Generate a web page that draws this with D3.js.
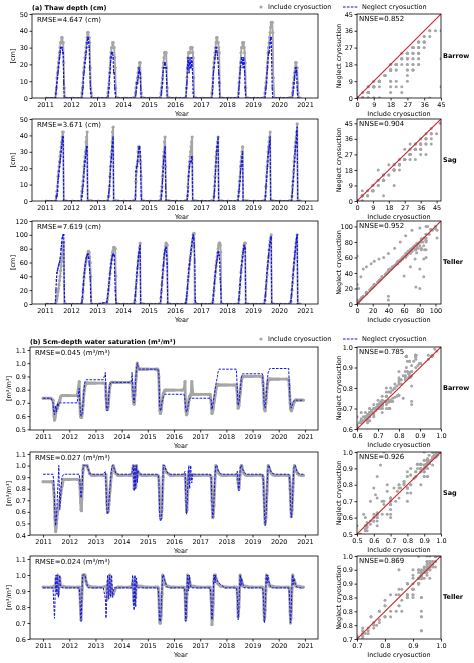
<!DOCTYPE html>
<html>
<head>
<meta charset="utf-8">
<script src="https://cdn.jsdelivr.net/npm/d3@7"></script>
<style>
  body { margin: 0; background: #fff; }
  svg { will-change: transform; }
  text { font-family: "DejaVu Sans", sans-serif; fill: #000; }
</style>
</head>
<body>
<div id="chart"></div>
<script>
// ---- data ----
const years = [2011, 2012, 2013, 2014, 2015, 2016, 2017, 2018, 2019, 2020];
const yearTicks = [2011, 2012, 2013, 2014, 2015, 2016, 2017, 2018, 2019, 2020, 2021];

// (a) thaw depth (cm), sampled at these fractions of each year
const thawFrac = [0.05, 0.38, 0.40, 0.42, 0.44, 0.46, 0.48, 0.50, 0.52, 0.54, 0.56, 0.58,
                  0.60, 0.62, 0.64, 0.66, 0.68, 0.70, 0.72, 0.74, 0.76, 0.78, 0.82];

const barrowThawInc = [
  [0,0,0,3,6,12,15,18,21,24,27,30,33,33,36,36,33,33,21,6,0,0,0],
  [0,0,0,3,6,9,15,18,21,24,27,30,33,36,39,39,36,36,33,18,6,3,0],
  [0,0,0,3,6,9,15,18,24,27,30,30,33,33,30,30,24,18,6,0,0,0,0],
  [0,0,0,0,0,0,3,6,9,9,12,15,18,18,21,21,12,3,0,0,0,0,0],
  [0,0,0,0,0,3,6,9,12,18,21,24,27,27,27,27,18,6,0,0,0,0,0],
  [0,0,0,0,6,12,18,24,27,27,27,27,30,30,30,30,27,24,12,0,0,0,0],
  [0,0,0,3,6,12,18,21,24,27,30,33,36,36,33,33,30,27,9,0,0,0,0],
  [0,0,0,0,3,9,12,18,21,27,30,30,33,33,33,30,27,21,6,0,0,0,0],
  [0,0,0,0,0,3,6,9,12,18,21,27,30,33,36,39,42,45,45,45,39,12,0],
  [0,0,0,0,0,0,0,0,3,6,9,12,15,18,21,21,18,18,9,3,0,0,0]
];
const barrowThawNeg = [
  [0,0,0,3,6,9,12,15,18,21,24,27,30,30,30,30,27,27,9,0,0,0,0],
  [0,0,0,0,3,6,12,15,18,21,24,27,30,33,36,36,33,30,18,9,3,0,0],
  [0,0,0,0,3,6,12,15,21,24,27,27,27,24,15,15,6,3,0,0,0,0,0],
  [0,0,0,0,0,0,0,3,6,9,9,12,15,18,15,15,6,0,0,0,0,0,0],
  [0,0,0,0,0,0,3,6,9,15,18,18,21,21,18,18,9,0,0,0,0,0,0],
  [0,0,0,0,6,9,18,24,21,15,21,24,18,18,24,21,12,3,0,0,0,0,0],
  [0,0,0,0,3,9,15,18,21,24,27,30,30,27,24,21,15,9,0,0,0,0,0],
  [0,0,0,0,0,6,9,15,18,21,24,24,21,18,24,21,15,6,0,0,0,0,0],
  [0,0,0,0,0,0,3,6,9,15,18,24,27,27,30,33,36,36,21,6,0,0,0],
  [0,0,0,0,0,0,0,0,0,3,6,9,12,15,18,18,15,6,0,0,0,0,0]
];

const sagThawInc = [
  [0,0,0,0,3,6,9,15,18,21,24,27,30,33,36,39,42,42,0,0,0,0,0],
  [0,0,3,6,9,12,15,21,24,27,30,36,39,42,0,0,0,0,0,0,0,0,0],
  [0,0,0,0,3,3,9,15,21,27,30,36,42,45,0,0,0,0,0,0,0,0,0],
  [0,0,0,0,0,0,3,12,18,21,24,30,33,33,30,27,24,15,0,0,0,0,0],
  [0,0,0,0,0,3,6,9,15,21,27,30,36,39,21,0,0,0,0,0,0,0,0],
  [0,0,0,0,0,0,3,9,15,21,24,27,30,33,36,39,0,0,0,0,0,0,0],
  [0,0,0,0,0,0,0,3,9,15,21,27,30,33,36,39,0,0,0,0,0,0,0],
  [0,0,0,0,3,6,12,15,21,24,27,30,33,0,0,0,0,0,0,0,0,0,0],
  [0,0,0,0,0,0,3,9,15,21,24,30,33,36,39,42,0,0,0,0,0,0,0],
  [0,0,0,0,0,0,0,3,9,12,18,24,27,33,36,39,42,47,0,0,0,0,0]
];
const sagThawNeg = [
  [0,0,0,0,3,3,6,12,15,18,21,24,27,30,33,36,39,39,0,0,0,0,0],
  [0,0,0,3,6,9,12,18,21,24,27,30,33,33,0,0,0,0,0,0,0,0,0],
  [0,0,0,0,3,6,9,15,21,24,27,33,36,39,0,0,0,0,0,0,0,0,0],
  [0,0,0,0,0,0,0,18,21,21,24,27,30,33,33,30,18,3,0,0,0,0,0],
  [0,0,0,0,0,0,3,6,12,18,24,27,30,33,9,0,0,0,0,0,0,0,0],
  [0,0,0,0,0,0,3,6,15,18,21,24,24,24,27,27,0,0,0,0,0,0,0],
  [0,0,0,0,0,0,0,3,6,12,18,24,30,33,36,39,0,0,0,0,0,0,0],
  [0,0,0,0,3,6,9,12,18,21,24,27,30,0,0,0,0,0,0,0,0,0,0],
  [0,0,0,0,0,0,3,9,12,18,21,27,30,33,36,39,0,0,0,0,0,0,0],
  [0,0,0,0,0,0,0,3,6,12,15,21,24,30,33,36,42,45,0,0,0,0,0]
];

const tellerThawInc = [
  [0,0,0,2,5,8,12,18,22,28,34,40,48,55,62,70,80,88,90,0,0,0,0],
  [0,0,0,2,8,18,28,38,45,52,58,62,66,68,72,76,76,74,68,60,40,0,0],
  [0,2,6,12,20,28,36,44,52,58,64,70,75,78,82,82,80,80,40,0,0,0,0],
  [0,0,0,0,0,4,12,22,32,42,52,60,68,74,82,88,0,0,0,0,0,0,0],
  [0,0,0,0,0,8,18,28,38,48,56,65,72,78,84,88,86,85,0,0,0,0,0],
  [0,0,0,2,6,12,22,32,40,50,57,64,70,76,82,88,94,100,102,102,0,0,0],
  [0,0,0,0,0,4,12,20,30,38,46,55,62,68,74,80,85,88,88,85,75,0,0],
  [0,0,0,0,0,6,16,26,36,46,54,62,70,76,80,85,88,88,0,0,0,0,0],
  [0,0,0,0,0,5,12,22,32,42,52,60,68,78,86,92,96,100,0,0,0,0,0],
  [0,0,0,0,0,4,12,20,30,40,50,58,66,74,82,88,94,100,0,0,0,0,0]
];
const tellerThawNeg = [
  [0,0,0,20,35,45,48,52,55,58,60,65,72,80,88,95,98,100,100,25,0,0,0],
  [0,0,0,3,10,20,30,40,48,55,60,65,68,70,72,72,66,58,48,36,10,0,0],
  [0,3,8,15,22,30,38,45,52,58,63,68,70,72,72,70,45,20,5,0,0,0,0],
  [0,0,0,0,0,5,14,25,35,45,54,62,70,75,80,85,0,0,0,0,0,0,0],
  [0,0,0,0,0,10,20,30,40,50,58,68,74,78,80,82,70,58,0,0,0,0,0],
  [0,0,0,2,8,15,25,35,44,52,58,65,72,78,84,90,96,100,95,85,62,5,0],
  [0,0,0,0,0,5,14,22,32,40,48,55,60,65,70,75,75,70,60,35,22,0,0],
  [0,0,0,0,0,8,18,28,38,48,56,62,68,75,80,85,82,80,0,0,0,0,0],
  [0,0,0,0,0,6,14,25,35,45,54,62,70,78,85,90,95,97,0,0,0,0,0],
  [0,0,0,0,0,5,13,22,32,42,51,60,68,75,83,90,96,100,0,0,0,0,0]
];

// (b) 5 cm water saturation (m3/m3), sampled at these fractions of each year
const satFrac = [0.0, 0.30, 0.38, 0.40, 0.42, 0.435, 0.45, 0.465, 0.48, 0.495, 0.51, 0.525, 0.54,
                 0.555, 0.57, 0.585, 0.60, 0.62, 0.64, 0.66, 0.68, 0.72, 0.78, 0.86, 0.94];

const barrowSatInc = [
  [.735,.735,.72,.66,.60,.57,.58,.60,.62,.64,.65,.66,.67,.66,.68,.69,.70,.71,.72,.74,.75,.755,.755,.755,.755],
  [.755,.755,.86,.70,.62,.60,.59,.59,.60,.62,.65,.68,.72,.76,.79,.81,.83,.845,.85,.85,.85,.85,.85,.85,.85],
  [.85,.85,.85,.75,.68,.66,.65,.65,.67,.70,.74,.78,.81,.83,.845,.85,.855,.855,.855,.855,.855,.855,.855,.855,.855],
  [.855,.855,.86,.85,.80,.75,.72,.70,.69,.72,.76,.80,.86,.90,.94,.97,1.0,.98,.96,.955,.955,.955,.955,.955,.955],
  [.955,.955,.955,.94,.90,.80,.68,.64,.62,.63,.65,.67,.70,.72,.74,.76,.77,.78,.79,.795,.797,.797,.797,.797,.797],
  [.797,.797,.80,.82,.86,.72,.66,.63,.61,.62,.64,.66,.68,.70,.72,.74,.75,.755,.76,.77,.86,.765,.765,.765,.765],
  [.765,.765,.765,.74,.70,.66,.62,.63,.64,.66,.68,.70,.72,.74,.76,.78,.80,.82,.83,.835,.84,.835,.835,.835,.835],
  [.835,.835,.835,.80,.74,.70,.66,.67,.68,.71,.74,.77,.80,.83,.86,.88,.89,.90,.90,.90,.90,.90,.90,.90,.90],
  [.90,.90,.90,.85,.78,.70,.66,.65,.64,.67,.70,.74,.78,.81,.84,.86,.87,.88,.88,.88,.88,.88,.88,.88,.88],
  [.88,.88,.88,.83,.76,.70,.66,.65,.64,.65,.66,.67,.68,.69,.70,.705,.71,.715,.72,.72,.72,.72,.72,.72,.72]
];
const barrowSatNeg = [
  [.735,.735,.70,.64,.62,.61,.64,.66,.68,.65,.63,.66,.68,.70,.67,.69,.70,.70,.70,.70,.70,.70,.70,.70,.70],
  [.70,.70,.81,.72,.64,.61,.60,.60,.61,.63,.66,.70,.74,.78,.81,.84,.86,.87,.875,.875,.875,.875,.875,.875,.875],
  [.875,.875,.93,.74,.66,.64,.64,.65,.68,.72,.76,.80,.82,.84,.85,.855,.855,.855,.855,.855,.855,.855,.855,.855,.855],
  [.855,.855,.86,.93,.85,.78,.74,.71,.70,.73,.78,.83,.88,.92,.96,.99,1.0,.98,.96,.955,.955,.955,.955,.955,.955],
  [.955,.955,.955,.94,.92,.82,.70,.66,.64,.64,.66,.68,.70,.72,.73,.74,.75,.755,.76,.765,.765,.765,.765,.765,.765],
  [.765,.765,.765,.75,.72,.68,.66,.64,.63,.64,.65,.67,.68,.70,.71,.72,.73,.735,.74,.735,.735,.735,.735,.735,.735],
  [.735,.735,.735,.73,.72,.68,.65,.66,.68,.70,.72,.74,.76,.78,.80,.82,.84,.86,.88,.90,.93,.955,.955,.955,.955],
  [.955,.955,.955,.88,.80,.72,.68,.69,.70,.73,.76,.79,.82,.85,.88,.90,.91,.92,.92,.92,.92,.92,.92,.92,.92],
  [.92,.92,.92,.86,.80,.72,.68,.67,.66,.69,.72,.76,.80,.84,.88,.91,.93,.94,.95,.96,.96,.96,.96,.96,.96],
  [.96,.96,.96,.86,.78,.72,.68,.67,.66,.67,.68,.69,.70,.705,.71,.715,.72,.72,.72,.72,.72,.72,.72,.72,.72]
];

const sagSatInc = [
  [.86,.86,.86,.80,.75,.65,.55,.48,.43,.46,.50,.54,.58,.60,.62,.64,.66,.68,.70,.73,.76,.82,.88,.88,.88],
  [.88,.88,.88,.85,.75,.68,.62,.61,.72,.80,.90,.96,1.0,1.0,1.0,1.0,1.0,1.0,1.0,1.0,1.0,.97,.93,.915,.915],
  [.915,.915,.915,.92,.80,.68,.62,.60,.60,.62,.66,.70,.74,.78,.82,.86,.90,.93,.95,.98,1.0,.97,.93,.915,.915],
  [.915,.915,.915,.93,.95,.98,1.0,.90,.80,.88,.95,.90,.82,.92,1.0,.95,.90,.95,.93,.93,.93,.92,.915,.915,.915],
  [.915,.915,.915,.91,.90,.82,.70,.62,.56,.55,.55,.58,.62,.70,.80,.90,1.0,.99,.98,.97,.96,.94,.93,.915,.915],
  [.915,.915,.915,.92,.92,.88,.80,.70,.60,.62,.70,.78,.88,.92,.95,.90,.88,.92,.90,.92,.92,.92,.915,.915,.915],
  [.915,.915,.915,.91,.90,.80,.70,.62,.55,.56,.60,.66,.75,.82,.90,.95,1.0,.98,.97,.96,.95,.93,.92,.915,.915],
  [.915,.915,.915,.92,.92,.88,.85,.82,.80,.84,.88,.92,.95,.98,1.0,1.0,.98,.96,.95,.94,.93,.92,.915,.915,.915],
  [.915,.915,.915,.90,.85,.75,.65,.56,.50,.52,.55,.62,.70,.78,.88,.95,1.0,.98,.97,.96,.95,.93,.92,.915,.915],
  [.915,.915,.915,.91,.88,.80,.70,.62,.56,.58,.62,.70,.78,.85,.92,.97,1.0,.98,.97,.96,.95,.93,.92,.915,.915]
];
const sagSatNeg = [
  [.925,.925,.925,.88,.80,.70,.60,.52,.48,.52,.55,.62,.70,.78,.85,.92,1.0,.80,.62,.70,.78,.90,.925,.925,.925],
  [.925,.925,.925,.88,.80,.76,.72,.74,.78,.85,.92,.97,1.0,1.0,1.0,1.0,1.0,1.0,1.0,1.0,1.0,.97,.93,.925,.925],
  [.925,.925,.95,.85,.70,.62,.58,.58,.60,.63,.68,.72,.76,.81,.86,.90,.95,.98,1.0,1.0,1.0,.97,.93,.925,.925],
  [.925,.925,.925,.94,.96,1.0,1.0,.88,.78,.90,1.0,.88,.80,.95,1.0,.92,.85,.96,.94,.93,.93,.925,.925,.925,.925],
  [.925,.925,.925,.91,.88,.75,.60,.55,.52,.52,.53,.56,.60,.72,.85,.95,1.0,1.0,1.0,.99,.97,.95,.93,.925,.925],
  [.925,.925,.925,.94,.95,.88,.75,.65,.58,.62,.72,.82,.90,.96,1.0,.85,.80,.95,1.0,.90,.85,.93,.925,.925,.925],
  [.925,.925,.925,.91,.90,.78,.68,.60,.55,.57,.62,.70,.78,.86,.92,.97,1.0,1.0,1.0,.98,.96,.94,.93,.925,.925],
  [.925,.925,.925,.94,.95,.90,.85,.80,.78,.84,.90,.95,1.0,1.0,1.0,1.0,.98,.97,.96,.95,.94,.93,.925,.925,.925],
  [.925,.925,.925,.90,.85,.72,.62,.54,.48,.50,.55,.62,.72,.82,.90,.96,1.0,1.0,1.0,.98,.96,.94,.93,.925,.925],
  [.925,.925,.925,.91,.88,.78,.68,.60,.55,.58,.62,.70,.80,.88,.95,.98,1.0,1.0,1.0,.98,.96,.94,.93,.925,.925]
];

const tellerSatInc = [
  [.925,.925,.925,.93,.93,.93,.93,.92,.95,.98,.92,.90,.96,1.0,.94,.88,.92,.96,.98,.94,.93,.93,.93,.925,.925],
  [.925,.925,.925,.90,.82,.76,.72,.78,.85,.92,.98,1.0,1.0,1.0,1.0,1.0,1.0,.98,.96,.95,.94,.93,.93,.925,.925],
  [.925,.925,.93,.93,.93,.90,.85,.92,.96,.90,.88,.95,1.0,.96,.90,.88,.94,.92,.88,.90,.88,.90,.92,.925,.925],
  [.925,.925,.925,.93,.95,.93,.90,.84,.82,.92,.98,.90,.86,.94,.95,.93,.93,.93,.93,.93,.93,.93,.93,.925,.925],
  [.925,.925,.925,.92,.88,.80,.72,.70,.70,.72,.75,.80,.88,.94,1.0,.99,.98,.97,.96,.95,.94,.93,.93,.925,.925],
  [.925,.925,.925,.92,.90,.80,.72,.74,.80,.88,.95,1.0,.96,.92,.94,.98,.96,.94,.93,.93,.93,.93,.93,.925,.925],
  [.925,.925,.925,.90,.85,.76,.69,.72,.75,.82,.90,.96,1.0,.98,.96,1.0,.98,.97,.96,.95,.95,.94,.93,.93,.925],
  [.925,.925,.925,.92,.88,.80,.74,.76,.80,.86,.92,1.0,.98,.95,.97,.96,.95,.94,.93,.93,.93,.93,.93,.925,.925],
  [.925,.925,.925,.92,.86,.78,.72,.74,.78,.84,.90,.98,1.0,.96,.97,.98,.96,.95,.94,.93,.93,.93,.93,.925,.925],
  [.925,.925,.925,.92,.85,.77,.70,.73,.78,.85,.92,.98,1.0,.95,.96,.97,.96,.95,.94,.93,.93,.93,.93,.925,.925]
];
const tellerSatNeg = [
  [.92,.92,.92,.85,.78,.73,.80,.90,.97,1.0,.92,.88,.98,1.0,.92,.86,.90,.98,1.0,.94,.93,.92,.92,.92,.92],
  [.92,.92,.92,.88,.80,.74,.71,.77,.86,.94,1.0,1.0,1.0,1.0,1.0,1.0,1.0,.98,.96,.95,.94,.92,.92,.92,.92],
  [.92,.92,.85,.73,.78,.88,.95,1.0,.92,.86,.85,.96,1.0,.95,.88,.86,.96,1.0,.90,.86,.90,.92,.92,.92,.92],
  [.92,.92,.92,.94,1.0,.95,.85,.80,.78,.90,1.0,.88,.80,.94,.98,.92,.92,.92,.92,.92,.92,.92,.92,.92,.92],
  [.92,.92,.92,.90,.85,.78,.72,.71,.71,.73,.78,.84,.90,.96,1.0,1.0,1.0,.98,.97,.96,.95,.93,.92,.92,.92],
  [.92,.92,.92,.92,.88,.78,.71,.74,.82,.90,.98,1.0,.95,.90,.94,1.0,.97,.95,.93,.92,.92,.92,.92,.92,.92],
  [.92,.92,.92,.90,.82,.76,.72,.74,.78,.86,.95,1.0,1.0,.96,.95,1.0,.98,.97,.97,.96,.96,.95,.94,.93,.92],
  [.92,.92,.92,.90,.86,.78,.72,.75,.82,.88,.95,1.0,1.0,.93,.96,.98,.96,.95,.94,.93,.92,.92,.92,.92,.92],
  [.92,.92,.92,.90,.84,.76,.70,.73,.80,.86,.93,1.0,1.0,.95,.97,1.0,.98,.96,.95,.94,.93,.92,.92,.92,.92],
  [.92,.92,.92,.90,.82,.75,.70,.72,.80,.88,.95,1.0,1.0,.94,.96,.98,.97,.95,.94,.93,.93,.92,.92,.92,.92]
];

// tick labels
const thawTicks = [0, 10, 20, 30, 40, 50];
const tellerThawTicks = [0, 20, 40, 60, 80, 100, 120];
const thawScatterTicks = [0, 9, 18, 27, 36, 45];
const tellerScatterTicks = [0, 20, 40, 60, 80, 100];
const barrowSatTicks = [0.5, 0.6, 0.7, 0.8, 0.9, 1.0, 1.1];
const sagSatTicks = [0.4, 0.5, 0.6, 0.7, 0.8, 0.9, 1.0, 1.1];
const tellerSatTicks = [0.6, 0.7, 0.8, 0.9, 1.0, 1.1];
const barrowSatScatterTicks = [0.6, 0.7, 0.8, 0.9, 1.0];
const sagSatScatterTicks = [0.5, 0.6, 0.7, 0.8, 0.9, 1.0];
const tellerSatScatterX = [0.7, 0.8, 0.9, 1.0];
const tellerSatScatterY = [0.70, 0.75, 0.80, 0.85, 0.90, 0.95, 1.00];

const rmseText = ['RMSE=4.647 (cm)', 'RMSE=3.671 (cm)', 'RMSE=7.619 (cm)',
  'RMSE=0.045 (m\u00b3/m\u00b3)', 'RMSE=0.027 (m\u00b3/m\u00b3)', 'RMSE=0.024 (m\u00b3/m\u00b3)'];
const nnseText = ['NNSE=0.852', 'NNSE=0.904', 'NNSE=0.952', 'NNSE=0.785', 'NNSE=0.926', 'NNSE=0.869'];
const stations = ['Barrow', 'Sag', 'Teller'];

// ---- drawing ----
const GRAY = '#a6a6a6';
const BLUE = '#1010e8';
const RED = '#d0202e';
const FS = 6.5;

let badRows = 0;
function toRows(frac, inc, neg) {
  const rows = [];
  years.forEach((yr, i) => {
    if (inc[i].length !== frac.length || neg[i].length !== frac.length) badRows++;
    frac.forEach((f, j) => rows.push({ t: yr + f, inc: inc[i][j], neg: neg[i][j] }));
  });
  return rows.filter(d => d.inc !== undefined && d.neg !== undefined);
}

const svg = d3.select('#chart').append('svg')
  .attr('width', 474)
  .attr('height', 663)
  .style('display', 'block')
  .style('background', '#fff');

let clipCount = 0;
function clipRect(x0, y0, x1, y1) {
  const id = 'clip' + (clipCount++);
  svg.append('clipPath').attr('id', id)
    .append('rect').attr('x', x0).attr('y', y0).attr('width', x1 - x0).attr('height', y1 - y0);
  return 'url(#' + id + ')';
}

function styleAxis(sel) {
  sel.attr('font-size', FS).attr('font-family', '"DejaVu Sans", sans-serif');
  sel.select('.domain').remove();
  sel.selectAll('.tick line').attr('stroke', '#000').attr('stroke-width', 0.8);
  sel.selectAll('.tick text').attr('fill', '#000');
}

function box(x0, y0, x1, y1) {
  svg.append('rect')
    .attr('x', x0).attr('y', y0)
    .attr('width', x1 - x0).attr('height', y1 - y0)
    .attr('fill', 'none').attr('stroke', '#000').attr('stroke-width', 0.8);
}

function label(txt, x, y, opts = {}) {
  const t = svg.append('text')
    .attr('x', x).attr('y', y)
    .attr('font-size', opts.size || FS)
    .attr('text-anchor', opts.anchor || 'start')
    .attr('dominant-baseline', 'middle')
    .style('fill', '#000')
    .text(txt);
  if (opts.bold) t.attr('font-weight', 'bold');
  if (opts.rotate) t.attr('transform', 'rotate(-90,' + x + ',' + y + ')');
  return t;
}

function timePanel(p) {
  const x = d3.scaleLinear().domain([2010.5, 2021.5]).range([p.left, 318]);
  const y = d3.scaleLinear().domain(p.yDomain).range([p.bottom, p.top]);

  const g = svg.append('g').attr('clip-path', clipRect(p.left, p.top, 318, p.bottom));

  // daily markers of the "include" run sit so close they read as a band
  g.append('path').datum(p.rows)
    .attr('d', d3.line().x(d => x(d.t)).y(d => y(d.inc)))
    .attr('fill', 'none')
    .attr('stroke', GRAY)
    .attr('stroke-width', p.band)
    .attr('stroke-linejoin', 'round')
    .attr('stroke-linecap', 'round');
  g.append('g').selectAll('circle').data(p.rows).join('circle')
    .attr('cx', d => x(d.t))
    .attr('cy', d => y(d.inc))
    .attr('r', 1.6)
    .attr('fill', GRAY);

  g.append('path').datum(p.rows)
    .attr('d', d3.line().x(d => x(d.t)).y(d => y(d.neg)))
    .attr('fill', 'none')
    .attr('stroke', BLUE)
    .attr('stroke-width', p.lw)
    .attr('stroke-dasharray', '2.6,1.3');
  if (p.dots) {
    g.append('g').selectAll('circle').data(p.rows.filter(d => d.neg > 0)).join('circle')
      .attr('cx', d => x(d.t))
      .attr('cy', d => y(d.neg))
      .attr('r', 0.8)
      .attr('fill', BLUE);
  }

  const xAxis = svg.append('g')
    .attr('transform', 'translate(0,' + p.bottom + ')')
    .call(d3.axisBottom(x).tickValues(yearTicks).tickFormat(d3.format('d')).tickSize(2.5).tickPadding(1.5));
  styleAxis(xAxis);
  const yAxis = svg.append('g')
    .attr('transform', 'translate(' + p.left + ',0)')
    .call(d3.axisLeft(y).tickValues(p.ticks).tickFormat(p.fmt).tickSize(2.5).tickPadding(1.5));
  styleAxis(yAxis);
  box(p.left, p.top, 318, p.bottom);

  label(p.rmse, p.left + 5, p.top + 6.5, { size: 7 });
  label('Year', (p.left + 318) / 2, p.bottom + 16);
  label(p.ylab, p.ylabX, (p.top + p.bottom) / 2, { anchor: 'middle', rotate: true });
}

function scatterPanel(p) {
  const x = d3.scaleLinear().domain(p.domain).range([357, 441]);
  const y = d3.scaleLinear().domain(p.domain).range([p.bottom, p.top]);

  const g = svg.append('g').attr('clip-path', clipRect(357, p.top, 441, p.bottom));
  g.selectAll('circle').data(p.rows).join('circle')
    .attr('cx', d => x(d.inc))
    .attr('cy', d => y(d.neg))
    .attr('r', 1.5)
    .attr('fill', GRAY);
  g.append('path').datum([p.domain[0], p.domain[1]])
    .attr('d', d3.line().x(d => x(d)).y(d => y(d)))
    .attr('stroke', RED)
    .attr('stroke-width', 1.1);

  const xAxis = svg.append('g')
    .attr('transform', 'translate(0,' + p.bottom + ')')
    .call(d3.axisBottom(x).tickValues(p.xTicks).tickFormat(p.fmt).tickSize(2.5).tickPadding(1.5));
  styleAxis(xAxis);
  const yAxis = svg.append('g')
    .attr('transform', 'translate(357,0)')
    .call(d3.axisLeft(y).tickValues(p.yTicks).tickFormat(p.fmt).tickSize(2.5).tickPadding(1.5));
  styleAxis(yAxis);
  box(357, p.top, 441, p.bottom);

  label(p.nnse, 359, p.top + 5.5, { size: 7 });
  label('Include cryosuction', 399, p.bottom + 16, { anchor: 'middle' });
  label('Neglect cryosuction', 339, (p.top + p.bottom) / 2, { anchor: 'middle', rotate: true });
  label(p.station, 443, (p.top + p.bottom) / 2, { bold: true });
}

function legend(yy) {
  svg.append('circle').attr('cx', 261).attr('cy', yy).attr('r', 1.6).attr('fill', GRAY);
  label('Include cryosuction', 268, yy);
  svg.append('line')
    .attr('x1', 343).attr('x2', 358).attr('y1', yy).attr('y2', yy)
    .attr('stroke', BLUE).attr('stroke-width', 1.1).attr('stroke-dasharray', '2.6,1.3');
  label('Neglect cryosuction', 362, yy);
}

const intFmt = d3.format('d');
const f1 = d3.format('.1f');

const thawRows = [
  toRows(thawFrac, barrowThawInc, barrowThawNeg),
  toRows(thawFrac, sagThawInc, sagThawNeg),
  toRows(thawFrac, tellerThawInc, tellerThawNeg)
];
const satRows = [
  toRows(satFrac, barrowSatInc, barrowSatNeg),
  toRows(satFrac, sagSatInc, sagSatNeg),
  toRows(satFrac, tellerSatInc, tellerSatNeg)
];

label('(a) Thaw depth (cm)', 32, 8, { bold: true });
legend(7);

const thawLayout = [
  { top: 14, bottom: 98, yDomain: [0, 50], ticks: thawTicks, sDomain: [0, 45], sTicks: thawScatterTicks },
  { top: 119, bottom: 201, yDomain: [0, 50], ticks: thawTicks, sDomain: [0, 47.5], sTicks: thawScatterTicks },
  { top: 221, bottom: 304, yDomain: [0, 120], ticks: tellerThawTicks, sDomain: [0, 107], sTicks: tellerScatterTicks }
];
thawLayout.forEach((L, i) => {
  timePanel({ left: 32, top: L.top, bottom: L.bottom, yDomain: L.yDomain, ticks: L.ticks, fmt: intFmt,
    rows: thawRows[i], rmse: rmseText[i], ylab: '[cm]', ylabX: 13, band: 1.8, lw: 1.2, dots: true });
  scatterPanel({ top: L.top, bottom: L.bottom, domain: L.sDomain, xTicks: L.sTicks, yTicks: L.sTicks,
    fmt: intFmt, rows: thawRows[i], nnse: nnseText[i], station: stations[i] });
});

label('(b) 5cm-depth water saturation (m\u00b3/m\u00b3)', 30, 342, { bold: true });
legend(339);

const satLayout = [
  { top: 347, bottom: 430, yDomain: [0.4947, 1.1227], ticks: barrowSatTicks,
    sTop: 347, sBottom: 429, sDomain: [0.6, 1.0], sx: barrowSatScatterTicks, sy: barrowSatScatterTicks },
  { top: 452, bottom: 535, yDomain: [0.4, 1.117], ticks: sagSatTicks,
    sTop: 452, sBottom: 534, sDomain: [0.5, 1.0], sx: sagSatScatterTicks, sy: sagSatScatterTicks },
  { top: 556, bottom: 639, yDomain: [0.6, 1.119], ticks: tellerSatTicks,
    sTop: 556, sBottom: 639, sDomain: [0.7, 1.0], sx: tellerSatScatterX, sy: tellerSatScatterY }
];
satLayout.forEach((L, i) => {
  timePanel({ left: 30, top: L.top, bottom: L.bottom, yDomain: L.yDomain, ticks: L.ticks, fmt: f1,
    rows: satRows[i], rmse: rmseText[i + 3], ylab: '[m\u00b3/m\u00b3]', ylabX: 9, band: 2.8, lw: 1, dots: false });
  scatterPanel({ top: L.sTop, bottom: L.sBottom, domain: L.sDomain, xTicks: L.sx, yTicks: L.sy,
    fmt: f1, rows: satRows[i], nnse: nnseText[i + 3], station: stations[i] });
});

if (badRows) label('row length mismatch: ' + badRows, 200, 330, { size: 9 }).style('fill', 'red');
</script>
</body>
</html>
